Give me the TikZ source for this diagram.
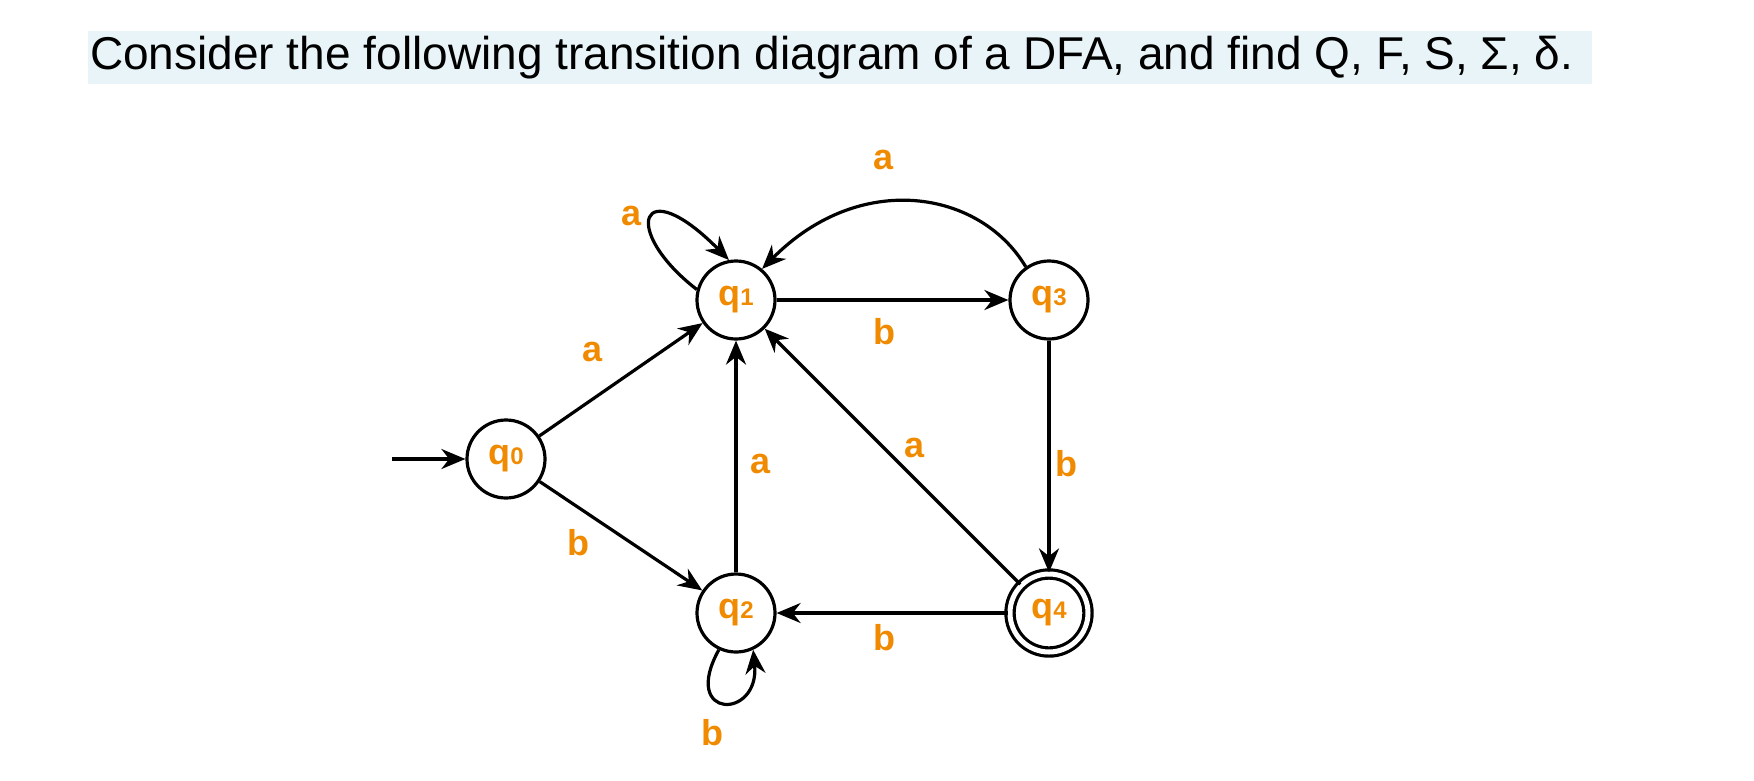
\documentclass[tikz,border=0pt]{standalone}
\usepackage{fontspec}
\setmainfont{Liberation Sans}
\usetikzlibrary{arrows.meta}
\definecolor{lab}{HTML}{F08A00}
\definecolor{hdr}{HTML}{E8F4F7}
\newcommand{\qn}[1]{q{\fontsize{24}{26}\selectfont #1}}
\begin{document}
\begin{tikzpicture}[x=1pt,y=-1pt,
  st/.style={circle,draw,line width=3.2pt,minimum size=78pt,inner sep=0pt,text=lab,font=\fontsize{36}{38}\selectfont\bfseries},
  ed/.style={line width=3.2pt,-{Stealth[length=24pt,width=20pt]}},
  lb/.style={text=lab,font=\fontsize{36}{38}\selectfont\bfseries}]
\useasboundingbox (0,0) rectangle (1754,780);
\fill[hdr] (88,31) rectangle (1592,84);
\node[anchor=west,font=\fontsize{46}{50}\selectfont,inner sep=0pt] (title) at (90,58) {Consider the following transition diagram of a DFA, and find Q, F, S, Σ, δ.};
\node[st] (q0) at (506,459) {\qn{0}};
\node[st] (q1) at (736,300) {\qn{1}};
\node[st] (q3) at (1049,300) {\qn{3}};
\node[st] (q2) at (736,613) {\qn{2}};
\node[st,double,double distance=5pt] (q4) at (1049,613) {\qn{4}};
\coordinate (init) at (392,459);
\draw[ed] (init) -- (q0);
\draw[ed] (q0) -- (q1);
\draw[ed] (q0) -- (q2);
\draw[ed] (q1) -- (q3);
\draw[ed] (q2) -- (q1);
\draw[ed] (q3) -- (q4);
\draw[ed] (q4) -- (q2);
\draw[ed] (q4) -- (q1);
\draw[ed] (q3.125) .. controls (980,190) and (860,170) .. (q1.50);
\draw[ed] (q1.165) .. controls (620,230) and (640,170) .. (q1.100);
\draw[ed] (q2.245) .. controls (680,720) and (760,720) .. (q2.295);
\node[lb] (l1) at (632,216) {a};
\node[lb] (l2) at (884,160) {a};
\node[lb] (l3) at (884,332) {b};
\node[lb] (l4) at (593,352) {a};
\node[lb] (l5) at (761,464) {a};
\node[lb] (l6) at (915,448) {a};
\node[lb] (l7) at (1066,464) {b};
\node[lb] (l8) at (578,543) {b};
\node[lb] (l9) at (884,638) {b};
\node[lb] (l10) at (712,733) {b};
\end{tikzpicture}
\end{document}
